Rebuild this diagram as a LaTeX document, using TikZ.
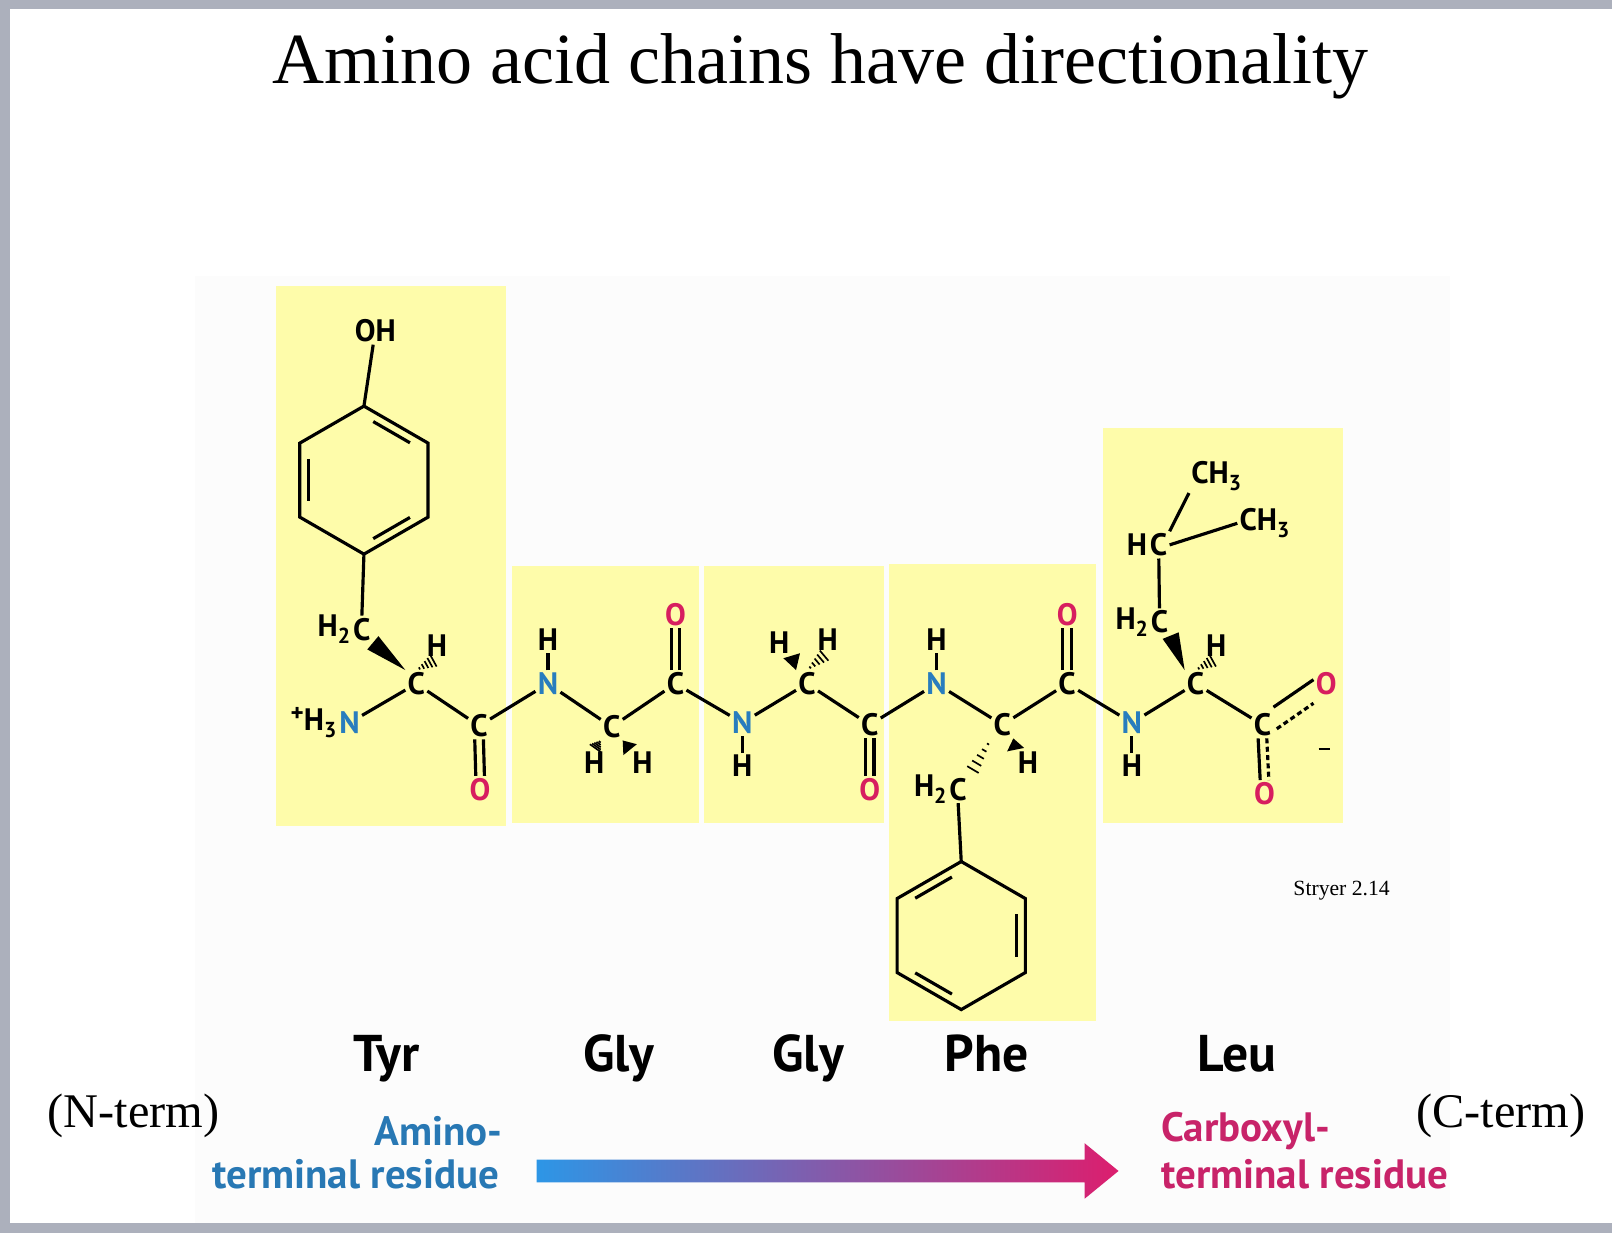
\documentclass[tikz,border=0pt]{standalone}
\usepackage{fontspec}
\setmainfont{Liberation Serif}
\newfontfamily\chemf{PT Sans}
\usetikzlibrary{calc}
\definecolor{yel}{RGB}{254,252,170}
\definecolor{nblue}{RGB}{40,125,190}
\definecolor{ored}{RGB}{215,30,95}
\definecolor{bord}{RGB}{172,176,188}
\definecolor{tblue}{RGB}{40,120,180}
\definecolor{tmag}{RGB}{200,35,105}
\definecolor{ablue}{RGB}{45,150,230}
\definecolor{apurp}{RGB}{95,75,160}
\definecolor{amag}{RGB}{220,30,110}
\newcommand\chsub[1]{\raisebox{-0.45ex}{\fontsize{6.5}{6.5}\selectfont #1}}
\newcommand\wedgeb[2]{\fill (#1) -- ($(#2)!2.6pt!90:(#1)$) -- ($(#2)!2.6pt!-90:(#1)$) -- cycle;}
\newcommand\hashb[2]{\foreach \t in {0.15,0.32,0.49,0.66,0.83,1.0}{\draw[line width=0.5pt] ($(#1)!\t!(#2)!{\t*2.4pt}!90:(#2)$) -- ($(#1)!\t!(#2)!{\t*2.4pt}!-90:(#2)$);}}
\begin{document}
\begin{tikzpicture}[x=0.3084pt,y=-0.3084pt,
  atm/.style={font=\chemf\bfseries\fontsize{9.3}{10}\selectfont, inner sep=0.5pt},
  nat/.style={atm,text=nblue},
  oat/.style={atm,text=ored},
  bd/.style={line width=0.95pt},
  box/.style={fill=yel},
  res/.style={font=\chemf\bfseries\fontsize{15.5}{16}\selectfont,anchor=base},
  term/.style={font=\fontsize{14.5}{15}\selectfont},
  tr/.style={font=\chemf\bfseries\fontsize{12.3}{13}\selectfont}]
\useasboundingbox (0,0) rectangle (1568,1209);
\fill[white] (0,0) rectangle (1568,1209);
\fill[bord] (0,0) rectangle (1568,9);
\fill[bord] (0,0) rectangle (10,1198);
\fill[bord] (0,1190) rectangle (1568,1199);
\fill[black!1] (190,268) rectangle (1410,1190);
\node[font=\fontsize{21.6}{23}\selectfont] (title) at (798,64) {Amino acid chains have directionality};
% boxes
\fill[box] (268,278) rectangle (492,803);
\fill[box] (498,551) rectangle (680,801);
\fill[box] (685,551) rectangle (860,801);
\fill[box] (865,549) rectangle (1066,993);
\fill[box] (1073,416) rectangle (1306,801);
% Tyr
\node[atm] (oh) at (365,322) {OH};
\foreach \n/\a in {t1/90,t2/30,t3/-30,t4/-90,t5/-150,t6/150}{\coordinate (\n) at ($(354,467)+(\a:72 and -72)$);}
\draw[bd] (t1)--(t2)--(t3)--(t4)--(t5)--(t6)--cycle;
\coordinate (tc) at (354,467);
\draw[bd] ($(tc)!.84!(t6)!3pt!(t5)$) -- ($(tc)!.84!(t5)!3pt!(t6)$);
\draw[bd] ($(tc)!.84!(t1)!3pt!(t2)$) -- ($(tc)!.84!(t2)!3pt!(t1)$);
\draw[bd] ($(tc)!.84!(t3)!3pt!(t4)$) -- ($(tc)!.84!(t4)!3pt!(t3)$);
\draw[bd] (oh) -- (t1);
\node[atm] (c1b) at (352,612) {C};
\node[atm,anchor=east,inner sep=0pt] at (c1b.west) {H\chsub2};
\draw[bd] (t4) -- (c1b.north);
\node[nat] (n1) at (340,703) {N};
\node[atm,anchor=east,inner sep=0pt] at (n1.west) {\raisebox{0.6ex}{\fontsize{7.5}{7.5}\selectfont+}H\chsub3};
\node[atm] (ca1) at (405,665) {C};
\node[atm] (h1) at (425,628) {H};
\wedgeb{ca1.north west}{c1b.south east}
\hashb{ca1.north}{h1.south}
\node[atm] (c1) at (466,706) {C};
\node[oat] (o1) at (467,768) {O};
\draw[bd] (n1) -- (ca1); \draw[bd] (ca1) -- (c1);
\draw[bd] ([xshift=-1.3pt]c1.south) -- ([xshift=-1.3pt]o1.north);
\draw[bd] ([xshift=1.3pt]c1.south) -- ([xshift=1.3pt]o1.north);
% Gly1
\node[nat] (n2) at (533,665) {N};
\node[atm] (hn2) at (533,622) {H};
\draw[bd] (n2) -- (hn2);
\draw[bd] (c1) -- (n2);
\node[atm] (ca2) at (595,707) {C};
\node[atm] (h2a) at (578,742) {H};
\node[atm] (h2b) at (625,742) {H};
\draw[bd] (n2) -- (ca2);
\hashb{ca2.south west}{h2a.north}
\wedgeb{ca2.south east}{h2b.north west}
\node[atm] (c2) at (657,665) {C};
\node[oat] (o2) at (657,598) {O};
\draw[bd] (ca2) -- (c2);
\draw[bd] ([xshift=-1.3pt]c2.north) -- ([xshift=-1.3pt]o2.south);
\draw[bd] ([xshift=1.3pt]c2.north) -- ([xshift=1.3pt]o2.south);
% Gly2
\node[nat] (n3) at (722,703) {N};
\node[atm] (hn3) at (722,745) {H};
\draw[bd] (n3) -- (hn3); \draw[bd] (c2) -- (n3);
\node[atm] (ca3) at (785,665) {C};
\node[atm] (h3a) at (758,625) {H};
\node[atm] (h3b) at (805,622) {H};
\draw[bd] (n3) -- (ca3);
\wedgeb{ca3.north west}{h3a.south east}
\hashb{ca3.north}{h3b.south}
\node[atm] (c3) at (846,705) {C};
\node[oat] (o3) at (846,768) {O};
\draw[bd] (ca3) -- (c3);
\draw[bd] ([xshift=-1.3pt]c3.south) -- ([xshift=-1.3pt]o3.north);
\draw[bd] ([xshift=1.3pt]c3.south) -- ([xshift=1.3pt]o3.north);
% Phe
\node[nat] (n4) at (911,665) {N};
\node[atm] (hn4) at (911,622) {H};
\draw[bd] (n4) -- (hn4); \draw[bd] (c3) -- (n4);
\node[atm] (ca4) at (975,705) {C};
\node[atm] (h4) at (1000,742) {H};
\draw[bd] (n4) -- (ca4);
\wedgeb{ca4.south east}{h4.north west}
\node[atm] (c4b) at (932,768) {C};
\node[atm,anchor=east,inner sep=0pt] at (c4b.west) {H\chsub2};
\hashb{ca4.south west}{c4b.north east}
\foreach \n/\a in {p1/90,p2/30,p3/-30,p4/-90,p5/-150,p6/150}{\coordinate (\n) at ($(935,910)+(\a:72 and -72)$);}
\coordinate (pc) at (935,910);
\draw[bd] (p1)--(p2)--(p3)--(p4)--(p5)--(p6)--cycle;
\draw[bd] ($(pc)!.84!(p2)!3pt!(p3)$) -- ($(pc)!.84!(p3)!3pt!(p2)$);
\draw[bd] ($(pc)!.84!(p4)!3pt!(p5)$) -- ($(pc)!.84!(p5)!3pt!(p4)$);
\draw[bd] ($(pc)!.84!(p6)!3pt!(p1)$) -- ($(pc)!.84!(p1)!3pt!(p6)$);
\draw[bd] (c4b.south) -- (p1);
\node[atm] (c4) at (1038,665) {C};
\node[oat] (o4) at (1038,598) {O};
\draw[bd] (ca4) -- (c4);
\draw[bd] ([xshift=-1.3pt]c4.north) -- ([xshift=-1.3pt]o4.south);
\draw[bd] ([xshift=1.3pt]c4.north) -- ([xshift=1.3pt]o4.south);
% Leu
\node[nat] (n5) at (1101,703) {N};
\node[atm] (hn5) at (1101,745) {H};
\draw[bd] (n5) -- (hn5); \draw[bd] (c4) -- (n5);
\node[atm] (ca5) at (1163,665) {C};
\node[atm] (h5) at (1183,628) {H};
\draw[bd] (n5) -- (ca5);
\hashb{ca5.north}{h5.south}
\node[atm] (c5b) at (1128,605) {C};
\node[atm,anchor=east,inner sep=0pt] at (c5b.west) {H\chsub2};
\wedgeb{ca5.north west}{c5b.south east}
\node[atm] (hc) at (1127,530) {C};
\node[atm,anchor=east,inner sep=0pt] at (hc.west) {H};
\draw[bd] (c5b) -- (hc);
\node[atm] (me1) at (1183,463) {CH\chsub3};
\node[atm] (me2) at (1230,509) {CH\chsub3};
\draw[bd] (hc.north east) -- (me1.south west);
\draw[bd] (hc.east) -- (me2.west);
\node[atm] (c5) at (1228,705) {C};
\node[oat] (o5a) at (1290,665) {O};
\node[oat] (o5b) at (1230,772) {O};
\node[atm] (minus) at (1288,733) {\rule[0.6ex]{0.7ex}{0.5pt}};
\draw[bd] (ca5) -- (c5);
\draw[bd] ([yshift=1.2pt]c5.north east) -- ([yshift=1.2pt]o5a.west);
\draw[bd,dash pattern=on 1.5pt off 1pt] ([xshift=1pt,yshift=-1.2pt]c5.east) -- ([yshift=-1.8pt]o5a.south west);
\draw[bd] ([xshift=-1.3pt]c5.south) -- ([xshift=-1.3pt]o5b.north);
\draw[bd,dash pattern=on 1.5pt off 1pt] ([xshift=1.3pt]c5.south) -- ([xshift=1.3pt]o5b.north);
% labels
\node[font=\fontsize{6.5}{7}\selectfont] (stry) at (1305,866) {Stryer 2.14};
\node[res] (lt) at (376,1042) {Tyr};
\node[res] (lg1) at (602,1042) {Gly};
\node[res] (lg2) at (786,1042) {Gly};
\node[res] (lp) at (960,1042) {Phe};
\node[res] (ll) at (1203,1042) {Leu};
\node[term] (nt) at (130,1085) {(N-term)};
\node[term] (ct) at (1460,1085) {(C-term)};
\node[tr,text=tblue,anchor=east] (am) at (500,1100) {Amino-};
\node[tr,text=tblue] (am2) at (346,1142) {terminal residue};
\node[tr,text=tmag,anchor=west] (cb) at (1118,1100) {Carboxyl-};
\node[tr,text=tmag,anchor=west] (cb2) at (1118,1142) {terminal residue};
\shade[left color=ablue, middle color=apurp, right color=amag]
  (522,1128) -- (1055,1128) -- (1055,1112) -- (1088,1139) -- (1055,1166) -- (1055,1150) -- (522,1150) -- cycle;
\end{tikzpicture}
\end{document}
